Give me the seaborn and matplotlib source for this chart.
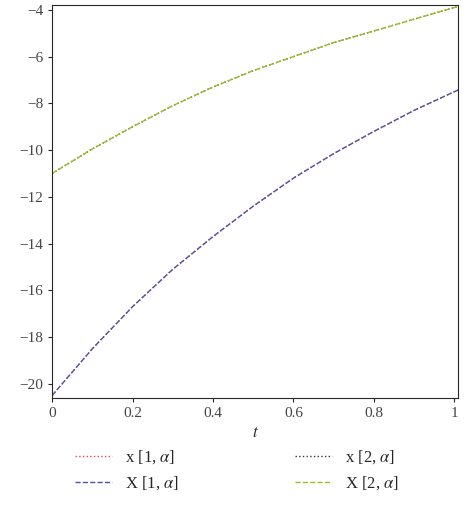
import matplotlib
matplotlib.use("Agg")
import matplotlib.pyplot as plt
import seaborn as sns
import pandas as pd

sns.set_style("ticks")
plt.rcParams['font.family'] = ['Liberation Serif', 'DejaVu Serif']
plt.rcParams['mathtext.fontset'] = 'stix'

t = [0.0, 0.1, 0.2, 0.3, 0.4, 0.5, 0.6, 0.7, 0.8, 0.9, 1.0, 1.01]
lower = [-20.5, -18.5, -16.7, -15.1, -13.7, -12.4, -11.2, -10.15, -9.2, -8.3, -7.5, -7.43]
upper = [-11.0, -9.95, -9.0, -8.1, -7.3, -6.6, -6.0, -5.4, -4.9, -4.4, -3.9, -3.85]

df = pd.DataFrame({"t": t, "lower": lower, "upper": upper})

fig = plt.figure(figsize=(4.74, 5.2), dpi=100)
ax = fig.add_axes([0.11, 0.235, 0.857, 0.755])

sns.lineplot(data=df, x="t", y="lower", ax=ax, color="#e8474c", linestyle=":", lw=1, label=r"x [1, $\alpha$]")
sns.lineplot(data=df, x="t", y="lower", ax=ax, color="#5050a0", linestyle="--", lw=1, label=r"X [1, $\alpha$]")
sns.lineplot(data=df, x="t", y="upper", ax=ax, color="#333333", linestyle=":", lw=1, label=r"x [2, $\alpha$]")
sns.lineplot(data=df, x="t", y="upper", ax=ax, color="#a8b820", linestyle="--", lw=1, label=r"X [2, $\alpha$]")

ax.set_xlim(0, 1.01)
ax.set_ylim(-20.6, -3.8)
ax.set_xticks([0, 0.2, 0.4, 0.6, 0.8, 1])
ax.set_xticklabels(["0", "0.2", "0.4", "0.6", "0.8", "1"])
ax.set_yticks([-20, -18, -16, -14, -12, -10, -8, -6, -4])
ax.set_yticklabels(["\u221220", "\u221218", "\u221216", "\u221214", "\u221212", "\u221210", "\u22128", "\u22126", "\u22124"])
ax.tick_params(labelsize=11, direction="out", length=3, labelcolor="#444444")
ax.set_xlabel("$t$", fontsize=12)
ax.set_ylabel("")
for s in ax.spines.values():
    s.set_linewidth(0.8)

h, l = ax.get_legend_handles_labels()
ax.get_legend().remove()
fig.legend(h, l, ncol=2, loc="lower center",
           bbox_to_anchor=(0.5, 0.025), frameon=False, fontsize=12,
           columnspacing=7, handlelength=2.2)

fig.savefig("out.png", dpi=100)
